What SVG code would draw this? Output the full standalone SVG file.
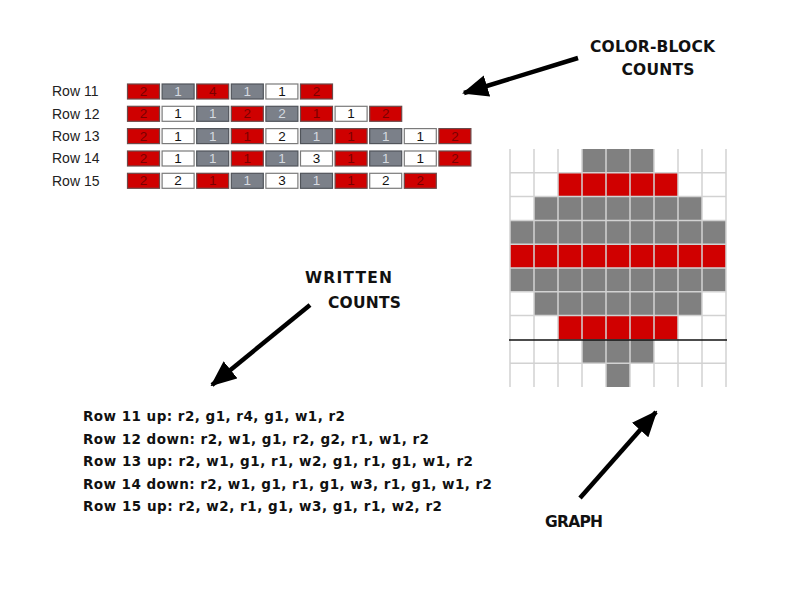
<svg xmlns="http://www.w3.org/2000/svg" width="794" height="596" viewBox="0 0 794 596">
<defs>
<style>
.lbl{font-family:"Liberation Sans",Arial,sans-serif;font-size:14px;fill:#222}
.bx{stroke-width:1.2}
.r{fill:#cf0000;stroke:#6b4a4a}
.g{fill:#7b8089;stroke:#50545a}
.w{fill:#ffffff;stroke:#7a7a7a}
.n{font-family:"Liberation Sans",Arial,sans-serif;font-size:13.5px;text-anchor:middle}
.nr{fill:#7a0000}
.ng{fill:#d6dae0}
.nw{fill:#111}
.hand{font-family:"DejaVu Sans",sans-serif;font-weight:bold;fill:#111}
.wc{font-family:"DejaVu Sans",sans-serif;font-weight:bold;font-size:13.5px;fill:#111}
.cg{fill:#808080}
.cr{fill:#d00000}
.grid{stroke:#d2d2d2;stroke-width:1.5;fill:none}
.arr{stroke:#000;stroke-width:4.5;fill:none;marker-end:url(#ah)}
</style>
<marker id="ah" markerUnits="userSpaceOnUse" viewBox="0 0 26 22" refX="24" refY="11" markerWidth="26" markerHeight="22" orient="auto">
<path d="M0,0 L26,11 L0,22 Z" fill="#000"/>
</marker>
</defs>
<rect width="794" height="596" fill="#fff"/>

<g id="colorblock-table">
<g id="row11">
<text class="lbl" x="52" y="96">Row 11</text>
<rect class="bx r" x="127.5" y="84" width="32" height="15"/><text class="n nr" x="143.5" y="96">2</text>
<rect class="bx g" x="162.1" y="84" width="32" height="15"/><text class="n ng" x="178.1" y="96">1</text>
<rect class="bx r" x="196.7" y="84" width="32" height="15"/><text class="n nr" x="212.7" y="96">4</text>
<rect class="bx g" x="231.3" y="84" width="32" height="15"/><text class="n ng" x="247.3" y="96">1</text>
<rect class="bx w" x="265.9" y="84" width="32" height="15"/><text class="n nw" x="281.9" y="96">1</text>
<rect class="bx r" x="300.5" y="84" width="32" height="15"/><text class="n nr" x="316.5" y="96">2</text>
</g>
<g id="row12">
<text class="lbl" x="52" y="118.5">Row 12</text>
<rect class="bx r" x="127.5" y="106.3" width="32" height="15"/><text class="n nr" x="143.5" y="118.3">2</text>
<rect class="bx w" x="162.1" y="106.3" width="32" height="15"/><text class="n nw" x="178.1" y="118.3">1</text>
<rect class="bx g" x="196.7" y="106.3" width="32" height="15"/><text class="n ng" x="212.7" y="118.3">1</text>
<rect class="bx r" x="231.3" y="106.3" width="32" height="15"/><text class="n nr" x="247.3" y="118.3">2</text>
<rect class="bx g" x="265.9" y="106.3" width="32" height="15"/><text class="n ng" x="281.9" y="118.3">2</text>
<rect class="bx r" x="300.5" y="106.3" width="32" height="15"/><text class="n nr" x="316.5" y="118.3">1</text>
<rect class="bx w" x="335.1" y="106.3" width="32" height="15"/><text class="n nw" x="351.1" y="118.3">1</text>
<rect class="bx r" x="369.7" y="106.3" width="32" height="15"/><text class="n nr" x="385.7" y="118.3">2</text>
</g>
<g id="row13">
<text class="lbl" x="52" y="141">Row 13</text>
<rect class="bx r" x="127.5" y="128.6" width="32" height="15"/><text class="n nr" x="143.5" y="140.6">2</text>
<rect class="bx w" x="162.1" y="128.6" width="32" height="15"/><text class="n nw" x="178.1" y="140.6">1</text>
<rect class="bx g" x="196.7" y="128.6" width="32" height="15"/><text class="n ng" x="212.7" y="140.6">1</text>
<rect class="bx r" x="231.3" y="128.6" width="32" height="15"/><text class="n nr" x="247.3" y="140.6">1</text>
<rect class="bx w" x="265.9" y="128.6" width="32" height="15"/><text class="n nw" x="281.9" y="140.6">2</text>
<rect class="bx g" x="300.5" y="128.6" width="32" height="15"/><text class="n ng" x="316.5" y="140.6">1</text>
<rect class="bx r" x="335.1" y="128.6" width="32" height="15"/><text class="n nr" x="351.1" y="140.6">1</text>
<rect class="bx g" x="369.7" y="128.6" width="32" height="15"/><text class="n ng" x="385.7" y="140.6">1</text>
<rect class="bx w" x="404.3" y="128.6" width="32" height="15"/><text class="n nw" x="420.3" y="140.6">1</text>
<rect class="bx r" x="438.9" y="128.6" width="32" height="15"/><text class="n nr" x="454.9" y="140.6">2</text>
</g>
<g id="row14">
<text class="lbl" x="52" y="163.2">Row 14</text>
<rect class="bx r" x="127.5" y="151" width="32" height="15"/><text class="n nr" x="143.5" y="163">2</text>
<rect class="bx w" x="162.1" y="151" width="32" height="15"/><text class="n nw" x="178.1" y="163">1</text>
<rect class="bx g" x="196.7" y="151" width="32" height="15"/><text class="n ng" x="212.7" y="163">1</text>
<rect class="bx r" x="231.3" y="151" width="32" height="15"/><text class="n nr" x="247.3" y="163">1</text>
<rect class="bx g" x="265.9" y="151" width="32" height="15"/><text class="n ng" x="281.9" y="163">1</text>
<rect class="bx w" x="300.5" y="151" width="32" height="15"/><text class="n nw" x="316.5" y="163">3</text>
<rect class="bx r" x="335.1" y="151" width="32" height="15"/><text class="n nr" x="351.1" y="163">1</text>
<rect class="bx g" x="369.7" y="151" width="32" height="15"/><text class="n ng" x="385.7" y="163">1</text>
<rect class="bx w" x="404.3" y="151" width="32" height="15"/><text class="n nw" x="420.3" y="163">1</text>
<rect class="bx r" x="438.9" y="151" width="32" height="15"/><text class="n nr" x="454.9" y="163">2</text>
</g>
<g id="row15">
<text class="lbl" x="52" y="185.5">Row 15</text>
<rect class="bx r" x="127.5" y="173.3" width="32" height="15"/><text class="n nr" x="143.5" y="185.3">2</text>
<rect class="bx w" x="162.1" y="173.3" width="32" height="15"/><text class="n nw" x="178.1" y="185.3">2</text>
<rect class="bx r" x="196.7" y="173.3" width="32" height="15"/><text class="n nr" x="212.7" y="185.3">1</text>
<rect class="bx g" x="231.3" y="173.3" width="32" height="15"/><text class="n ng" x="247.3" y="185.3">1</text>
<rect class="bx w" x="265.9" y="173.3" width="32" height="15"/><text class="n nw" x="281.9" y="185.3">3</text>
<rect class="bx g" x="300.5" y="173.3" width="32" height="15"/><text class="n ng" x="316.5" y="185.3">1</text>
<rect class="bx r" x="335.1" y="173.3" width="32" height="15"/><text class="n nr" x="351.1" y="185.3">1</text>
<rect class="bx w" x="369.7" y="173.3" width="32" height="15"/><text class="n nw" x="385.7" y="185.3">2</text>
<rect class="bx r" x="404.3" y="173.3" width="32" height="15"/><text class="n nr" x="420.3" y="185.3">2</text>
</g>
</g>

<g id="graph">
<rect class="cg" x="582" y="149" width="72" height="23.8"/>
<rect class="cr" x="558" y="172.8" width="120" height="23.8"/>
<rect class="cg" x="534" y="196.6" width="168" height="23.8"/>
<rect class="cg" x="510" y="220.4" width="216" height="23.8"/>
<rect class="cr" x="510" y="244.2" width="216" height="23.8"/>
<rect class="cg" x="510" y="268" width="216" height="23.8"/>
<rect class="cg" x="534" y="291.8" width="168" height="23.8"/>
<rect class="cr" x="558" y="315.6" width="120" height="23.8"/>
<rect class="cg" x="582" y="339.4" width="72" height="23.8"/>
<rect class="cg" x="606" y="363.2" width="24" height="23.8"/>
<path class="grid" d="M510,149V387M534,149V387M558,149V387M582,149V387M606,149V387M630,149V387M654,149V387M678,149V387M702,149V387M726,149V387M510,172.8H726M510,196.6H726M510,220.4H726M510,244.2H726M510,268H726M510,291.8H726M510,315.6H726M510,363.2H726"/>
<line x1="509" y1="340" x2="727" y2="340" stroke="#111" stroke-width="1.5"/>
</g>

<g id="written-counts">
<text class="wc" x="83" y="421" textLength="262">Row 11 up: r2, g1, r4, g1, w1, r2</text>
<text class="wc" x="83" y="443.5" textLength="346">Row 12 down: r2, w1, g1, r2, g2, r1, w1, r2</text>
<text class="wc" x="83" y="466" textLength="390">Row 13 up: r2, w1, g1, r1, w2, g1, r1, g1, w1, r2</text>
<text class="wc" x="83" y="488.5" textLength="409">Row 14 down: r2, w1, g1, r1, g1, w3, r1, g1, w1, r2</text>
<text class="wc" x="83" y="511" textLength="359">Row 15 up: r2, w2, r1, g1, w3, g1, r1, w2, r2</text>
</g>

<g id="labels">
<text class="hand" x="590" y="51.5" font-size="15.5" textLength="125">COLOR-BLOCK</text>
<text class="hand" x="621.5" y="75" font-size="15.5" textLength="73">COUNTS</text>
<text class="hand" x="305" y="283" font-size="15.5" textLength="87">WRITTEN</text>
<text class="hand" x="328" y="308" font-size="15.5" textLength="73">COUNTS</text>
<text class="hand" x="545" y="526.5" font-size="15.5" textLength="58">GRAPH</text>
</g>

<g id="connectors">
<line class="arr" x1="578" y1="58" x2="464" y2="93"/>
<line class="arr" x1="310" y1="305" x2="212" y2="385"/>
<line class="arr" x1="580" y1="498" x2="656" y2="412"/>
</g>
</svg>
